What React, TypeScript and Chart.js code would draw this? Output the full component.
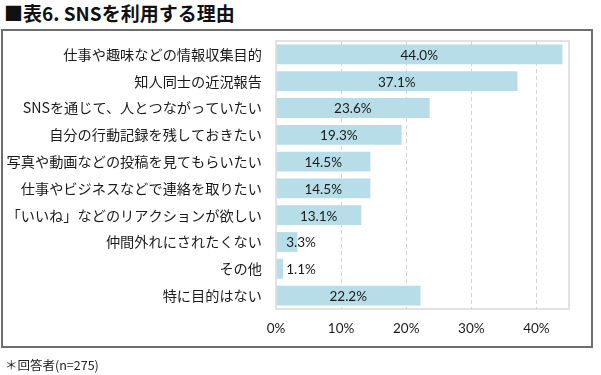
import React, { useEffect, useRef } from "react";
import { Chart, registerables } from "chart.js";

Chart.register(...registerables);

const categories = [
  "仕事や趣味などの情報収集目的",
  "知人同士の近況報告",
  "SNSを通じて、人とつながっていたい",
  "自分の行動記録を残しておきたい",
  "写真や動画などの投稿を見てもらいたい",
  "仕事やビジネスなどで連絡を取りたい",
  "「いいね」などのリアクションが欲しい",
  "仲間外れにされたくない",
  "その他",
  "特に目的はない",
];
const values = [44.0, 37.1, 23.6, 19.3, 14.5, 14.5, 13.1, 3.3, 1.1, 22.2];
const xTicks = [0, 10, 20, 30, 40];
const title = "■表6. SNSを利用する理由";
const footnote = "＊回答者(n=275)";

const barLabels = {
  id: "barLabels",
  afterDatasetsDraw(chart: any) {
    const ctx = chart.ctx;
    const meta = chart.getDatasetMeta(0);
    const x0 = chart.scales.x.getPixelForValue(0);
    ctx.save();
    ctx.font = "13.5px Lato, 'Liberation Sans', sans-serif";
    ctx.fillStyle = "#1a1a1a";
    ctx.textAlign = "center";
    ctx.textBaseline = "middle";
    meta.data.forEach((bar: any, i: number) => {
      const cx = Math.max((x0 + bar.x) / 2, x0 + 25);
      ctx.fillText(values[i].toFixed(1) + "%", cx, bar.y + 1);
    });
    ctx.restore();
  },
};

const areaBorder = {
  id: "areaBorder",
  afterDraw(chart: any) {
    const { left, top, right, bottom } = chart.chartArea;
    const ctx = chart.ctx;
    ctx.save();
    ctx.strokeStyle = "#d9d9d9";
    ctx.lineWidth = 1.5;
    ctx.strokeRect(left, top, right - left, bottom - top);
    ctx.restore();
  },
};

export default function App() {
  const ref = useRef<HTMLCanvasElement>(null);
  useEffect(() => {
    const chart = new Chart(ref.current!, {
      type: "bar",
      data: {
        labels: categories,
        datasets: [
          {
            data: values,
            backgroundColor: "#b7dee8",
            borderWidth: 0,
            barPercentage: 0.74,
            categoryPercentage: 1,
          },
        ],
      },
      options: {
        indexAxis: "y",
        animation: false,
        responsive: false,
        layout: { padding: { left: 0, top: 41, right: 32, bottom: 0 } },
        plugins: { legend: { display: false }, tooltip: { enabled: false } },
        scales: {
          x: {
            min: 0,
            max: 45,
            afterBuildTicks: (s: any) => {
              s.ticks = xTicks.map((v) => ({ value: v }));
            },
            afterFit: (s: any) => {
              s.height = 66;
            },
            grid: {
              color: (c: any) => (c.tick && c.tick.value === 0 ? "rgba(0,0,0,0)" : "#d4d4d4"),
              drawTicks: false,
            },
            border: { display: false, dash: [4, 3] },
            ticks: {
              padding: 12,
              color: "#1a1a1a",
              font: { family: "Lato, 'Liberation Sans', sans-serif", size: 13.5 },
              callback: (v: any) => v + "%",
            },
          },
          y: {
            afterFit: (s: any) => {
              s.width = 276;
            },
            grid: { display: false, drawTicks: false },
            border: { display: false },
            ticks: {
              padding: 14,
              color: "#1a1a1a",
              font: { family: "'Noto Sans CJK JP', sans-serif", size: 14.2 },
            },
          },
        },
      },
      plugins: [barLabels, areaBorder],
    });
    return () => chart.destroy();
  }, []);

  return (
    <div style={{ position: "absolute", left: 0, top: 0, width: 601, height: 375, background: "#fff", overflow: "hidden" }}>
      <div
        style={{
          position: "absolute",
          left: 4,
          top: 2,
          fontFamily: "'Noto Sans CJK JP', sans-serif",
          fontWeight: 700,
          fontSize: 19,
          lineHeight: "22px",
          color: "#111",
          whiteSpace: "nowrap",
        }}
      >
        {title}
      </div>
      <div
        style={{
          position: "absolute",
          left: 1,
          top: 29,
          width: 588,
          height: 315,
          border: "2px solid #6e6e6e",
        }}
      />
      <canvas ref={ref} width={601} height={375} style={{ position: "absolute", left: 0, top: 0 }} />
      <div
        style={{
          position: "absolute",
          left: 5,
          top: 357,
          fontFamily: "'Noto Sans CJK JP', sans-serif",
          fontSize: 12.5,
          lineHeight: "16px",
          color: "#222",
          whiteSpace: "nowrap",
        }}
      >
        {footnote}
      </div>
    </div>
  );
}
